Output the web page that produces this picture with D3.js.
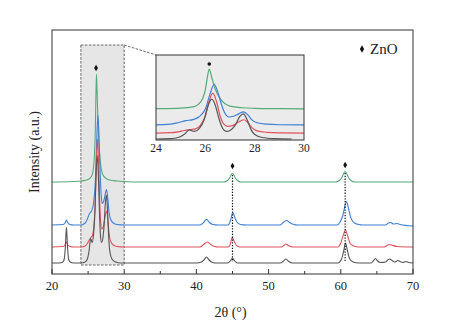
<!DOCTYPE html>
<html><head><meta charset="utf-8">
<script src="https://cdn.jsdelivr.net/npm/d3@7"></script>
<style>body{margin:0;background:#fff}svg{display:block}</style>
</head><body><div id="chart"></div>
<script>
// ---- data (2θ, intensity above each pattern's own baseline) ----
const seriesNames = ["green", "blue", "red", "gray"];
const offsets = [920, 490, 270, 110];
const greenPts = [[20,0],[23,5],[24,10],[25,25],[25.5,60],[25.7,120],[25.9,300],[26.0,520],[26.08,850],[26.16,1080],[26.25,880],[26.4,540],[26.6,280],[26.8,140],[27.0,80],[27.5,35],[28,20],[29,10],[30,5],[32,0],[43.8,0],[44.3,15],[44.6,40],[44.85,75],[45.0,85],[45.15,75],[45.4,40],[45.7,15],[46.2,0],[59.3,0],[59.8,15],[60.1,40],[60.4,85],[60.6,105],[60.8,85],[61.1,40],[61.4,15],[61.9,0],[70,0]];
const bluePts = [[20,0],[21.5,5],[21.8,20],[22.0,50],[22.2,20],[22.5,5],[23,0],[24,0],[24.6,20],[24.9,60],[25.2,115],[25.5,145],[25.75,220],[26.0,430],[26.2,860],[26.36,1100],[26.5,900],[26.65,560],[26.8,310],[26.95,215],[27.15,235],[27.35,300],[27.55,355],[27.75,250],[27.9,130],[28.1,60],[28.5,20],[29,5],[30,0],[40.5,0],[41.0,25],[41.4,57],[41.8,25],[42.3,5],[43,0],[44.4,0],[44.7,40],[45.05,125],[45.3,80],[45.6,30],[46.1,5],[47,0],[51.6,0],[52.1,30],[52.5,45],[52.9,25],[53.5,5],[54,0],[59.5,0],[59.9,30],[60.3,100],[60.6,200],[60.8,235],[61.05,170],[61.4,70],[61.9,20],[62.5,5],[63,0],[66.2,0],[66.6,20],[66.9,25],[67.3,10],[67.8,15],[68.2,5],[70,-10]];
const redPts = [[20,0],[21.5,5],[21.8,20],[22.0,50],[22.2,20],[22.5,5],[23,0],[24,0],[24.6,10],[24.9,35],[25.15,70],[25.4,95],[25.6,115],[25.8,210],[26.0,460],[26.15,850],[26.3,1080],[26.45,860],[26.6,460],[26.75,240],[26.9,180],[27.1,200],[27.3,280],[27.57,360],[27.75,260],[27.9,140],[28.1,60],[28.5,20],[29,5],[30,0],[40.5,0],[41.0,25],[41.5,50],[42.0,25],[42.5,5],[43,0],[44.4,0],[44.7,30],[44.95,95],[45.2,60],[45.5,20],[46,0],[51.8,0],[52.1,15],[52.4,30],[52.8,12],[53.3,0],[59.6,0],[60.0,40],[60.35,120],[60.65,170],[60.95,110],[61.3,35],[61.8,10],[62.5,0],[66,0],[66.5,20],[66.8,25],[67.2,15],[67.8,5],[70,0]];
const grayPts = [[20,0],[21,0],[21.5,10],[21.7,40],[21.85,160],[22.0,360],[22.15,160],[22.3,40],[22.5,10],[23,0],[24,0],[24.6,10],[24.9,40],[25.15,130],[25.35,245],[25.55,205],[25.75,280],[25.95,520],[26.1,880],[26.26,1075],[26.4,920],[26.55,560],[26.7,290],[26.85,205],[27.0,230],[27.2,360],[27.4,610],[27.54,680],[27.7,510],[27.85,260],[28.0,120],[28.3,40],[28.8,10],[29.5,0],[40,0],[40.7,10],[41.1,35],[41.4,60],[41.7,35],[42.1,10],[42.6,0],[44.3,0],[44.7,20],[45.0,50],[45.3,20],[45.7,0],[51.6,0],[52.0,15],[52.4,40],[52.8,15],[53.3,0],[59.6,0],[60.1,40],[60.4,120],[60.65,200],[60.9,130],[61.2,45],[61.7,10],[62.5,0],[64.2,0],[64.5,20],[64.8,45],[65.1,20],[65.5,5],[66.2,10],[66.5,30],[66.8,40],[67.1,25],[67.5,10],[67.9,25],[68.2,15],[68.6,5],[69,15],[69.4,5],[70,0]];
const seriesPts = [greenPts, bluePts, redPts, grayPts];
const colors = ["#55aa78", "#3f7fd6", "#e0525c", "#555555"];
const xTicksMajor = [20, 30, 40, 50, 60, 70];
const xTicksMinor = [25, 35, 45, 55, 65];
const insetTicks = [24, 26, 28, 30];
const zno2theta = [26.1, 45.0, 60.6];
const znoMarkY = [2060, 1080, 1090];
const dropTop = [null, 990, 1010];
const dropBottom = 120;
const insetMark = [26.16, 2137];
const zoomRange = [24, 30];
const zoomBoxY = [90, 2290];

const W = 474, H = 327;
const m = {l: 52, r: 413, t: 30, b: 274};
const FONT = '"Liberation Serif", "Times New Roman", Times, serif';
const svg = d3.select("#chart").append("svg").attr("width", W).attr("height", H);
const txt = (sel) => sel.style("font-family", FONT).attr("fill", "#222");

const x = d3.scaleLinear().domain([20, 70]).range([m.l, m.r]);
const y = d3.scaleLinear().domain([0, 2440]).range([m.b, m.t]);

// zoom highlight box
svg.append("rect").attr("x", x(zoomRange[0])).attr("y", y(zoomBoxY[1]))
  .attr("width", x(zoomRange[1]) - x(zoomRange[0])).attr("height", y(zoomBoxY[0]) - y(zoomBoxY[1]))
  .attr("fill", "#e6e6e6").attr("stroke", "#555").attr("stroke-width", 0.9).attr("stroke-dasharray", "2.5,1.5");

const line = (xs, ys, off) => d3.line().x(d => xs(d[0])).y(d => ys(d[1] + off)).curve(d3.curveMonotoneX);

// main curves
seriesPts.forEach((pts, i) => {
  svg.append("path").attr("d", line(x, y, offsets[i])(pts)).attr("fill", "none")
    .attr("stroke", colors[i]).attr("stroke-width", 1.1).attr("stroke-linejoin", "round");
});

// dotted drop lines
zno2theta.forEach((t, i) => {
  if (dropTop[i] === null) return;
  svg.append("line").attr("x1", x(t)).attr("x2", x(t)).attr("y1", y(dropTop[i])).attr("y2", y(dropBottom))
    .attr("stroke", "#111").attr("stroke-width", 1.2).attr("stroke-dasharray", "1.3,1.5");
});

// markers
const dia = d3.symbol().type(d3.symbolDiamond).size(13);
zno2theta.forEach((t, i) => {
  svg.append("path").attr("d", dia()).attr("transform", `translate(${x(t)},${y(znoMarkY[i])})`).attr("fill", "#111");
});

// frame
svg.append("rect").attr("x", m.l).attr("y", m.t).attr("width", m.r - m.l).attr("height", m.b - m.t)
  .attr("fill", "none").attr("stroke", "#333").attr("stroke-width", 1);

// ticks (inward)
const ax = svg.append("g").attr("transform", `translate(0,${m.b})`);
xTicksMajor.forEach(t => ax.append("line").attr("x1", x(t)).attr("x2", x(t)).attr("y1", 0).attr("y2", -5).attr("stroke", "#333"));
xTicksMinor.forEach(t => ax.append("line").attr("x1", x(t)).attr("x2", x(t)).attr("y1", 0).attr("y2", -3).attr("stroke", "#333"));
xTicksMajor.forEach(t => txt(ax.append("text")).attr("x", x(t)).attr("y", 16).attr("text-anchor", "middle")
  .style("font-size", "12.5px").text(t));

txt(svg.append("text")).attr("x", (m.l + m.r) / 2 - 2).attr("y", 317).attr("text-anchor", "middle")
  .style("font-size", "14px").text("2θ (°)");
txt(svg.append("text")).attr("transform", `translate(39,152) rotate(-90)`).attr("text-anchor", "middle")
  .style("font-size", "14px").text("Intensity (a.u.)");

// legend
svg.append("path").attr("d", d3.symbol().type(d3.symbolDiamond).size(16)()).attr("transform", "translate(362,49)").attr("fill", "#111");
txt(svg.append("text")).attr("x", 370).attr("y", 54).style("font-size", "15px").text("ZnO");

// inset
const ins = {l: 156, r: 304, t: 55, b: 140};
const xi = d3.scaleLinear().domain(zoomRange).range([ins.l, ins.r]);
const yi = d3.scaleLinear().domain([83, 2380]).range([ins.b, ins.t]);
svg.append("line").attr("x1", x(zoomRange[1])).attr("y1", y(zoomBoxY[1])).attr("x2", ins.l).attr("y2", ins.t)
  .attr("stroke", "#555").attr("stroke-width", 0.9).attr("stroke-dasharray", "2.5,1.5");
svg.append("rect").attr("x", ins.l).attr("y", ins.t).attr("width", ins.r - ins.l).attr("height", ins.b - ins.t).attr("fill", "#ebebeb");
svg.append("clipPath").attr("id", "ic").append("rect").attr("x", ins.l).attr("y", ins.t).attr("width", ins.r - ins.l).attr("height", ins.b - ins.t);
const ig = svg.append("g").attr("clip-path", "url(#ic)");
seriesPts.forEach((pts, i) => {
  const sub = pts.filter(d => d[0] >= 23 && d[0] <= 32);
  ig.append("path").attr("d", line(xi, yi, offsets[i])(sub)).attr("fill", "none")
    .attr("stroke", colors[i]).attr("stroke-width", 1.2);
});
svg.append("circle").attr("cx", xi(insetMark[0])).attr("cy", yi(insetMark[1])).attr("r", 1.8).attr("fill", "#111");
svg.append("rect").attr("x", ins.l).attr("y", ins.t).attr("width", ins.r - ins.l).attr("height", ins.b - ins.t)
  .attr("fill", "none").attr("stroke", "#333").attr("stroke-width", 1);
insetTicks.forEach(t => txt(svg.append("text")).attr("x", xi(t)).attr("y", 152).attr("text-anchor", "middle")
  .style("font-size", "11.5px").text(t));
</script></body></html>
